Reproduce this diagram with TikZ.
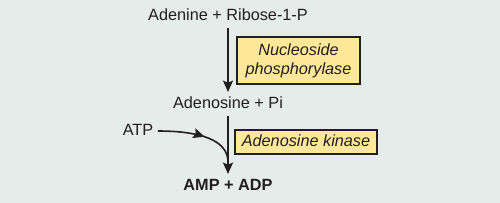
\documentclass[tikz,border=0pt]{standalone}
\usepackage{fontspec}
\setmainfont{Liberation Sans}
\usetikzlibrary{arrows.meta,decorations.markings}
\definecolor{bgcol}{HTML}{E5ECEA}
\definecolor{boxfill}{HTML}{FDE89A}
\definecolor{ink}{HTML}{231F20}

\begin{document}
\begin{tikzpicture}[x=0.75pt, y=-0.75pt, >={Stealth[length=8.5pt, width=7.5pt, inset=1.5pt]},
  every node/.style={text=ink, font=\fontsize{12.2}{14.5}\selectfont, text height=8.6pt, text depth=2.4pt},
  enzyme/.style={draw=ink, fill=boxfill, line width=1.2pt, align=center, font=\fontsize{12.2}{14.5}\selectfont\itshape, inner sep=2pt},
  flow/.style={draw=ink, line width=1.2pt}]
  \useasboundingbox[fill=bgcol] (0,0) rectangle (500,203);
  % compounds
  \node (adenine) at (228,16) {Adenine + Ribose-1-P};
  \node (adenosine) at (228,104) {Adenosine + Pi};
  \node[font=\fontsize{12.2}{14.5}\selectfont\bfseries] (amp) at (228,186) {AMP + ADP};
  \node (atp) at (138,131) {ATP};
  % enzymes
  \node[enzyme, minimum width=92pt, minimum height=35pt, text height=, text depth=] (np) at (298.5,60.5) {Nucleoside\\phosphorylase};
  \node[enzyme, minimum width=106.5pt, minimum height=18pt] (ak) at (306,142) {Adenosine kinase};
  % reactions
  \draw[flow, ->] (adenine) -- (adenosine);
  \draw[flow, ->] (adenosine) -- (amp);
  \coordinate (join) at (228,162);
  \draw[flow, decoration={markings, mark=at position 0.56 with {\arrow{>}}}, postaction={decorate}]
    (atp.east) .. controls (200,131) and (228,140) .. (join);
\end{tikzpicture}
\end{document}
